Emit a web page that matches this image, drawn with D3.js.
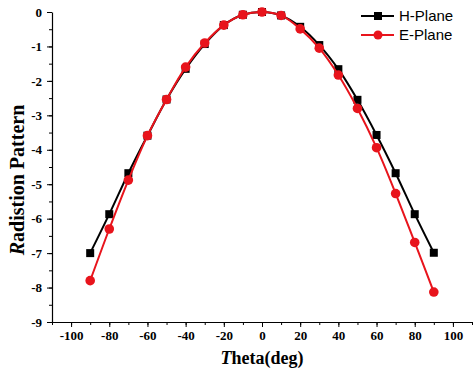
<!DOCTYPE html>
<html>
<head>
<meta charset="utf-8">
<script src="https://cdn.jsdelivr.net/npm/d3@7"></script>
<style>
  body { margin: 0; background: #fff; }
</style>
</head>
<body>
<div id="chart"></div>
<script>
// angles (deg)
const theta = [-90, -80, -70, -60, -50, -40, -30, -20, -10, 0, 10, 20, 30, 40, 50, 60, 70, 80, 90];
const hPlane = [-7.0, -5.87, -4.68, -3.59, -2.54, -1.65, -0.93, -0.38, -0.08, 0, -0.1, -0.43, -0.96, -1.66, -2.55, -3.57, -4.68, -5.87, -6.99];
const ePlane = [-7.8, -6.3, -4.88, -3.59, -2.54, -1.6, -0.9, -0.38, -0.08, 0, -0.1, -0.49, -1.05, -1.83, -2.8, -3.94, -5.27, -6.69, -8.13];
const xTicks = [-100, -80, -60, -40, -20, 0, 20, 40, 60, 80, 100];
const yTicks = [0, -1, -2, -3, -4, -5, -6, -7, -8, -9];

const width = 474, height = 372;
const margin = { top: 12, right: 2, bottom: 50, left: 52 };

const svg = d3.select('#chart')
  .append('svg')
  .attr('width', width)
  .attr('height', height);

const x = d3.scaleLinear().domain([-110, 110]).range([margin.left, width - margin.right]);
const y = d3.scaleLinear().domain([-9, 0]).range([height - margin.bottom, margin.top]);

const tickFont = g => g
  .attr('font-family', '"Liberation Serif", "Times New Roman", serif')
  .attr('font-weight', 'bold')
  .attr('font-size', 13);

// minor ticks first
svg.append('g')
  .attr('transform', `translate(0,${height - margin.bottom})`)
  .call(d3.axisBottom(x).tickValues(d3.range(-110, 111, 10)).tickSize(3).tickFormat(''))
  .call(g => g.select('.domain').remove());
svg.append('g')
  .attr('transform', `translate(${margin.left},0)`)
  .call(d3.axisLeft(y).tickValues(d3.range(-9, 0.01, 0.5)).tickSize(3).tickFormat(''))
  .call(g => g.select('.domain').remove());

svg.append('g')
  .attr('transform', `translate(0,${height - margin.bottom})`)
  .call(d3.axisBottom(x).tickValues(xTicks).tickSize(5).tickPadding(4).tickSizeOuter(0).tickFormat(d => String(d)))
  .call(tickFont)
  .call(g => g.select('.domain').attr('stroke-width', 1.2));

svg.append('g')
  .attr('transform', `translate(${margin.left},0)`)
  .call(d3.axisLeft(y).tickValues(yTicks).tickSize(5).tickPadding(5).tickSizeOuter(0).tickFormat(d => String(d)))
  .call(tickFont)
  .call(g => g.select('.domain').attr('stroke-width', 1.2));

// axis titles
const xt = svg.append('text')
  .attr('x', x(0))
  .attr('y', 364)
  .attr('text-anchor', 'middle')
  .style('font-family', '"Liberation Serif", serif')
  .style('font-weight', 'bold')
  .style('font-size', '18px');
xt.append('tspan').style('font-style', 'italic').text('T');
xt.append('tspan').text('heta(deg)');

const yt = svg.append('text')
  .attr('transform', 'translate(24,180) rotate(-90)')
  .attr('text-anchor', 'middle')
  .style('font-family', '"Liberation Serif", serif')
  .style('font-weight', 'bold')
  .style('font-size', '20px');
yt.append('tspan').style('font-style', 'italic').text('R');
yt.append('tspan').text('adistion Pattern');

const series = [
  { name: 'H-Plane', values: hPlane, color: '#000000', shape: 'square' },
  { name: 'E-Plane', values: ePlane, color: '#e8141c', shape: 'circle' }
];

const line = d3.line()
  .x(d => x(d[0]))
  .y(d => y(d[1]))
  .curve(d3.curveCatmullRom);

series.forEach(s => {
  const pts = theta.map((t, i) => [t, s.values[i]]);
  svg.append('path')
    .datum(pts)
    .attr('fill', 'none')
    .attr('stroke', s.color)
    .attr('stroke-width', 2)
    .attr('d', line);

  if (s.shape === 'square') {
    svg.selectAll(null)
      .data(pts)
      .enter()
      .append('rect')
      .attr('x', d => x(d[0]) - 4)
      .attr('y', d => y(d[1]) - 4)
      .attr('width', 8)
      .attr('height', 8)
      .attr('fill', s.color);
  } else {
    svg.selectAll(null)
      .data(pts)
      .enter()
      .append('circle')
      .attr('cx', d => x(d[0]))
      .attr('cy', d => y(d[1]))
      .attr('r', 4.8)
      .attr('fill', s.color);
  }
});

// legend
const legend = svg.append('g').attr('transform', 'translate(361,16)');
series.forEach((s, i) => {
  const g = legend.append('g').attr('transform', `translate(0,${i * 19})`);
  g.append('line').attr('x1', 0).attr('x2', 33).attr('stroke', s.color).attr('stroke-width', 2);
  if (s.shape === 'square') {
    g.append('rect').attr('x', 13).attr('y', -4).attr('width', 8).attr('height', 8).attr('fill', s.color);
  } else {
    g.append('circle').attr('cx', 17).attr('r', 4.5).attr('fill', s.color);
  }
  g.append('text')
    .attr('x', 38)
    .attr('dy', '0.35em')
    .style('font-family', '"Liberation Sans", Arial, sans-serif')
    .style('font-size', '15px')
    .text(s.name);
});
</script>
</body>
</html>
